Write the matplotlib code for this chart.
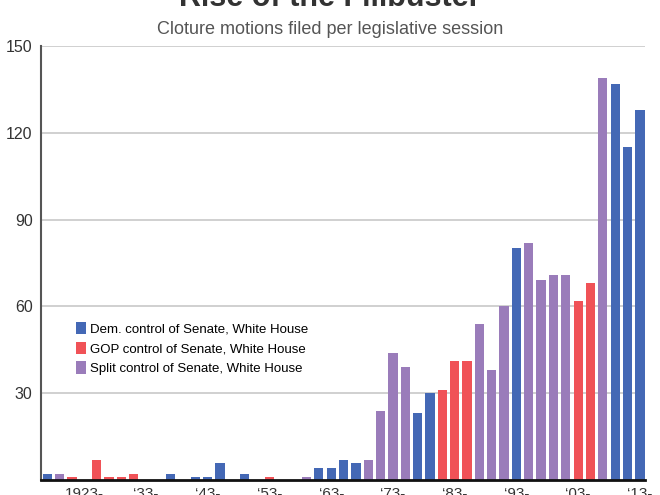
import matplotlib.pyplot as plt
from matplotlib.patches import Patch

# --- dados: moções de cloture por sessão (65º a 113º congresso) ---
sessoes = list(range(1917, 2015, 2))
motions = [2, 2, 1, 0, 7, 1, 1, 2, 0, 0,
           2, 0, 1, 1, 6, 0, 2, 0, 1, 0,
           0, 1, 4, 4, 7, 6, 7, 24, 44, 39,
           23, 30, 31, 41, 41, 54, 38, 60, 80, 82,
           69, 71, 71, 62, 68, 139, 137, 115, 128]
controle = ['D', 'S', 'R', 'R', 'R', 'R', 'R', 'R', 'D', 'D',
            'D', 'D', 'D', 'D', 'D', 'S', 'D', 'D', 'R', 'S',
            'S', 'S', 'D', 'D', 'D', 'D', 'S', 'S', 'S', 'S',
            'D', 'D', 'R', 'R', 'R', 'S', 'S', 'S', 'D', 'S',
            'S', 'S', 'S', 'R', 'R', 'S', 'D', 'D', 'D']
rotulos_x = ['1923-', '\u201833-', '\u201843-', '\u201853-', '\u201863-',
             '\u201873-', '\u201883-', '\u201893-', '\u201803-', '\u201813-']
anos_rotulo = [1923, 1933, 1943, 1953, 1963, 1973, 1983, 1993, 2003, 2013]
y_ticks = [30, 60, 90, 120, 150]

cores = {'D': '#4468b5', 'R': '#f05257', 'S': '#9a7cba'}
legenda = [('D', 'Dem. control of Senate, White House'),
           ('R', 'GOP control of Senate, White House'),
           ('S', 'Split control of Senate, White House')]

plt.rcParams['font.family'] = ['Liberation Sans', 'DejaVu Sans']

fig = plt.figure(figsize=(6.6, 4.95), dpi=100)
ax = fig.add_axes([0.062, 0.0303, 0.915, 0.877])

idx = list(range(len(sessoes)))
ax.bar(idx, motions, width=0.75, color=[cores[c] for c in controle], zorder=3)

ax.set_ylim(0, 150)
ax.set_xlim(-0.51, len(sessoes) - 0.6)
ax.set_yticks(y_ticks)
ax.set_yticklabels([str(v) for v in y_ticks], fontsize=11.5, color='#333333')
ax.yaxis.grid(True, color='#c8c8c8', linewidth=1.2, zorder=0)
ax.tick_params(axis='y', length=0, pad=6)

ax.set_xticks([sessoes.index(a) for a in anos_rotulo])
ax.set_xticklabels(rotulos_x, fontsize=11, color='#333333')
ax.tick_params(axis='x', length=0, pad=5)

for lado in ['top', 'right']:
    ax.spines[lado].set_visible(False)
ax.spines['left'].set_color('#555555')
ax.spines['left'].set_linewidth(1.5)
ax.spines['bottom'].set_color('#111111')
ax.spines['bottom'].set_linewidth(2)
ax.spines['bottom'].set_zorder(4)

handles = [Patch(facecolor=cores[k], label=t) for k, t in legenda]
ax.legend(handles=handles, loc='upper left', bbox_to_anchor=(0.115, 0.35),
          bbox_transform=fig.transFigure, frameon=False, fontsize=9.5,
          handlelength=0.8, handleheight=1.1, handletextpad=0.3,
          labelspacing=0.45, borderpad=0, borderaxespad=0)

fig.text(0.5, 0.988, 'Rise of the Filibuster', ha='center', va='baseline',
         fontsize=22, fontweight='bold', color='#333333')
fig.text(0.5, 0.941, 'Cloture motions filed per legislative session',
         ha='center', va='center', fontsize=13, color='#555555')

fig.savefig('out.png', dpi=100)
